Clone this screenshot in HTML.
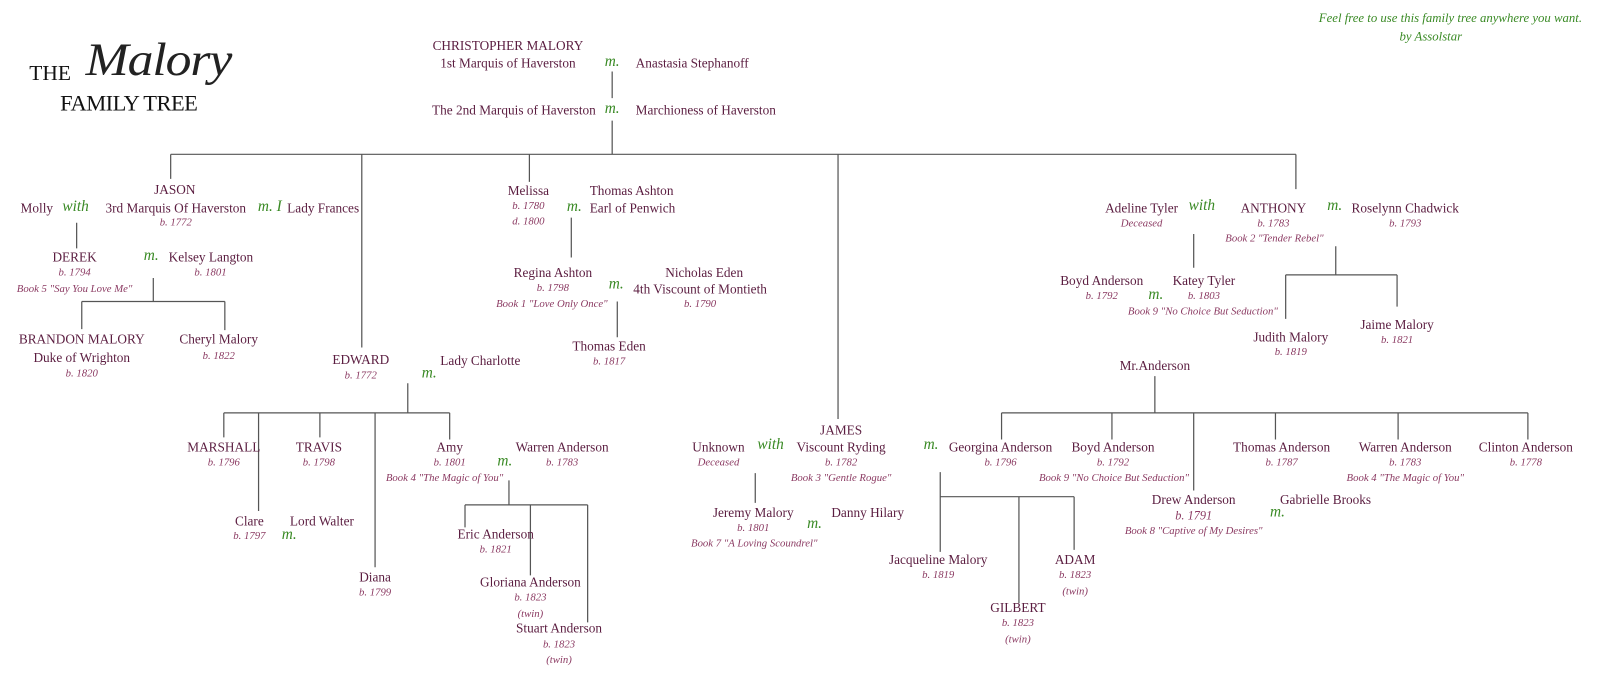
<!DOCTYPE html>
<html><head><meta charset="utf-8"><style>
html,body{margin:0;padding:0;background:#fff;width:1600px;height:685px;overflow:hidden}
#w{position:absolute;left:0;top:0;width:1566px;height:670px;transform:scale(1.022);transform-origin:0 0}
#w div{position:absolute;white-space:nowrap;transform:translate(-50%,-50%)}
#w div.l{transform:translate(0,-50%)}
#w div.r{transform:translate(-100%,-50%)}
.n{font:13px "Liberation Serif",serif;color:#5b1d40}
.d{font:italic 10.5px "Liberation Serif",serif;color:#8b3a62}
.g{font:italic 15px "Liberation Serif",serif;color:#3a8a25}
.t{font:21px "Liberation Serif",serif;color:#111}
svg{position:absolute;left:0;top:0}
</style></head><body><div id="w">
<svg width="1566" height="670" stroke="#555" stroke-width="1.2" fill="none">
<path d="M599 70V96M599 118V151M167 151H1268M167 151V175M354 151V340M518 151V178M820 151V410M1268 151V185
M75 218V243M150 272V295M80 295H220M80 295V322M220 295V323
M399 375V404M219 404H440M219 404V428M253 404V500M313 404V428M367 404V555M440 404V430
M498 470V494M455 494H575M455 494V516M519 494V563M575 494V609
M559 213V252M604 295V330
M739 463V492M920 462V540M920 486H1051M997 486V590M1051 486V538
M1130 368V404M980 404H1495M980 404V430M1088 404V430M1168 404V480M1248 404V430M1368 404V430M1495 404V430
M1168 229V262M1307 241V269M1258 269H1367M1258 269V312M1367 269V300"/>
</svg>
<div class="t" style="left:49px;top:72px">THE</div>
<div style="left:155px;top:58px;font:italic 46px 'Liberation Serif',serif;color:#222;letter-spacing:-1px;transform:translate(-50%,-50%) scaleX(1.1)">Malory</div>
<div class="t" style="left:126px;top:101px;font-size:22px;letter-spacing:-0.5px">FAMILY TREE</div>
<div class="r" style="left:1548px;top:18px;font:italic 12.5px 'Liberation Serif',serif;color:#3a8a25">Feel free to use this family tree anywhere you want.</div>
<div style="left:1400px;top:36px;font:italic 12.5px 'Liberation Serif',serif;color:#3a8a25">by Assolstar</div>

<div class="n" style="left:497px;top:45px">CHRISTOPHER MALORY</div>
<div class="n" style="left:497px;top:62px">1st Marquis of Haverston</div>
<div class="g" style="left:599px;top:61px">m.</div>
<div class="n l" style="left:622px;top:62px">Anastasia Stephanoff</div>
<div class="n r" style="left:583px;top:108px">The 2nd Marquis of Haverston</div>
<div class="g" style="left:599px;top:107px">m.</div>
<div class="n l" style="left:622px;top:108px">Marchioness of Haverston</div>

<div class="n" style="left:171px;top:186px">JASON</div>
<div class="n" style="left:172px;top:204px">3rd Marquis Of Haverston</div>
<div class="d" style="left:172px;top:218px">b. 1772</div>
<div class="n" style="left:36px;top:204px">Molly</div>
<div class="g" style="left:74px;top:203px">with</div>
<div class="g" style="left:264px;top:203px">m. I</div>
<div class="n l" style="left:281px;top:204px">Lady Frances</div>
<div class="n" style="left:73px;top:252px">DEREK</div>
<div class="d" style="left:73px;top:267px">b. 1794</div>
<div class="d" style="left:73px;top:283px">Book 5 "Say You Love Me"</div>
<div class="g" style="left:148px;top:251px">m.</div>
<div class="n l" style="left:165px;top:252px">Kelsey Langton</div>
<div class="d" style="left:206px;top:267px">b. 1801</div>
<div class="n" style="left:80px;top:332px">BRANDON MALORY</div>
<div class="n" style="left:80px;top:350px">Duke of Wrighton</div>
<div class="d" style="left:80px;top:366px">b. 1820</div>
<div class="n" style="left:214px;top:332px">Cheryl Malory</div>
<div class="d" style="left:214px;top:349px">b. 1822</div>

<div class="n" style="left:353px;top:352px">EDWARD</div>
<div class="d" style="left:353px;top:368px">b. 1772</div>
<div class="g" style="left:420px;top:366px">m.</div>
<div class="n" style="left:470px;top:353px">Lady Charlotte</div>
<div class="n" style="left:219px;top:438px">MARSHALL</div>
<div class="d" style="left:219px;top:453px">b. 1796</div>
<div class="n" style="left:312px;top:438px">TRAVIS</div>
<div class="d" style="left:312px;top:453px">b. 1798</div>
<div class="n" style="left:440px;top:438px">Amy</div>
<div class="d" style="left:440px;top:453px">b. 1801</div>
<div class="d" style="left:435px;top:468px">Book 4 "The Magic of You"</div>
<div class="g" style="left:494px;top:452px">m.</div>
<div class="n" style="left:550px;top:438px">Warren Anderson</div>
<div class="d" style="left:550px;top:453px">b. 1783</div>
<div class="n" style="left:244px;top:510px">Clare</div>
<div class="d" style="left:244px;top:525px">b. 1797</div>
<div class="n" style="left:315px;top:510px">Lord Walter</div>
<div class="g" style="left:283px;top:524px">m.</div>
<div class="n" style="left:367px;top:565px">Diana</div>
<div class="d" style="left:367px;top:580px">b. 1799</div>
<div class="n" style="left:485px;top:523px">Eric Anderson</div>
<div class="d" style="left:485px;top:538px">b. 1821</div>
<div class="n" style="left:519px;top:570px">Gloriana Anderson</div>
<div class="d" style="left:519px;top:585px">b. 1823</div>
<div class="d" style="left:519px;top:601px">(twin)</div>
<div class="n" style="left:547px;top:615px">Stuart Anderson</div>
<div class="d" style="left:547px;top:631px">b. 1823</div>
<div class="d" style="left:547px;top:646px">(twin)</div>

<div class="n" style="left:517px;top:187px">Melissa</div>
<div class="d" style="left:517px;top:202px">b. 1780</div>
<div class="d" style="left:517px;top:217px">d. 1800</div>
<div class="g" style="left:562px;top:203px">m.</div>
<div class="n l" style="left:577px;top:187px">Thomas Ashton</div>
<div class="n l" style="left:577px;top:204px">Earl of Penwich</div>
<div class="n" style="left:541px;top:267px">Regina Ashton</div>
<div class="d" style="left:541px;top:282px">b. 1798</div>
<div class="d" style="left:540px;top:298px">Book 1 "Love Only Once"</div>
<div class="g" style="left:603px;top:279px">m.</div>
<div class="n" style="left:689px;top:267px">Nicholas Eden</div>
<div class="n" style="left:685px;top:283px">4th Viscount of Montieth</div>
<div class="d" style="left:685px;top:298px">b. 1790</div>
<div class="n" style="left:596px;top:339px">Thomas Eden</div>
<div class="d" style="left:596px;top:354px">b. 1817</div>

<div class="n" style="left:823px;top:421px">JAMES</div>
<div class="n" style="left:823px;top:438px">Viscount Ryding</div>
<div class="d" style="left:823px;top:453px">b. 1782</div>
<div class="d" style="left:823px;top:468px">Book 3 "Gentle Rogue"</div>
<div class="n" style="left:703px;top:438px">Unknown</div>
<div class="d" style="left:703px;top:453px">Deceased</div>
<div class="g" style="left:754px;top:436px">with</div>
<div class="n" style="left:737px;top:502px">Jeremy Malory</div>
<div class="d" style="left:737px;top:517px">b. 1801</div>
<div class="d" style="left:738px;top:532px">Book 7 "A Loving Scoundrel"</div>
<div class="g" style="left:797px;top:513px">m.</div>
<div class="n" style="left:849px;top:502px">Danny Hilary</div>
<div class="g" style="left:911px;top:436px">m.</div>
<div class="n" style="left:979px;top:438px">Georgina Anderson</div>
<div class="d" style="left:979px;top:453px">b. 1796</div>
<div class="n" style="left:918px;top:548px">Jacqueline Malory</div>
<div class="d" style="left:918px;top:563px">b. 1819</div>
<div class="n" style="left:996px;top:595px">GILBERT</div>
<div class="d" style="left:996px;top:610px">b. 1823</div>
<div class="d" style="left:996px;top:626px">(twin)</div>
<div class="n" style="left:1052px;top:548px">ADAM</div>
<div class="d" style="left:1052px;top:563px">b. 1823</div>
<div class="d" style="left:1052px;top:579px">(twin)</div>

<div class="n" style="left:1130px;top:358px">Mr.Anderson</div>
<div class="n" style="left:1089px;top:438px">Boyd Anderson</div>
<div class="d" style="left:1089px;top:453px">b. 1792</div>
<div class="d" style="left:1090px;top:468px">Book 9 "No Choice But Seduction"</div>
<div class="n" style="left:1254px;top:438px">Thomas Anderson</div>
<div class="d" style="left:1254px;top:453px">b. 1787</div>
<div class="n" style="left:1375px;top:438px">Warren Anderson</div>
<div class="d" style="left:1375px;top:453px">b. 1783</div>
<div class="d" style="left:1375px;top:468px">Book 4 "The Magic of You"</div>
<div class="n" style="left:1493px;top:438px">Clinton Anderson</div>
<div class="d" style="left:1493px;top:453px">b. 1778</div>
<div class="n" style="left:1168px;top:489px">Drew Anderson</div>
<div class="d" style="left:1168px;top:505px;font-size:12px">b. 1791</div>
<div class="d" style="left:1168px;top:520px">Book 8 "Captive of My Desires"</div>
<div class="g" style="left:1250px;top:502px">m.</div>
<div class="n" style="left:1297px;top:489px">Gabrielle Brooks</div>

<div class="n" style="left:1117px;top:204px">Adeline Tyler</div>
<div class="d" style="left:1117px;top:219px">Deceased</div>
<div class="g" style="left:1176px;top:202px">with</div>
<div class="n" style="left:1246px;top:204px">ANTHONY</div>
<div class="d" style="left:1246px;top:219px">b. 1783</div>
<div class="d" style="left:1247px;top:234px">Book 2 "Tender Rebel"</div>
<div class="g" style="left:1306px;top:202px">m.</div>
<div class="n" style="left:1375px;top:204px">Roselynn Chadwick</div>
<div class="d" style="left:1375px;top:219px">b. 1793</div>
<div class="n" style="left:1078px;top:275px">Boyd Anderson</div>
<div class="d" style="left:1078px;top:290px">b. 1792</div>
<div class="g" style="left:1131px;top:289px">m.</div>
<div class="n" style="left:1178px;top:275px">Katey Tyler</div>
<div class="d" style="left:1178px;top:290px">b. 1803</div>
<div class="d" style="left:1177px;top:305px">Book 9 "No Choice But Seduction"</div>
<div class="n" style="left:1263px;top:330px">Judith Malory</div>
<div class="d" style="left:1263px;top:345px">b. 1819</div>
<div class="n" style="left:1367px;top:318px">Jaime Malory</div>
<div class="d" style="left:1367px;top:333px">b. 1821</div>
</div></body></html>
